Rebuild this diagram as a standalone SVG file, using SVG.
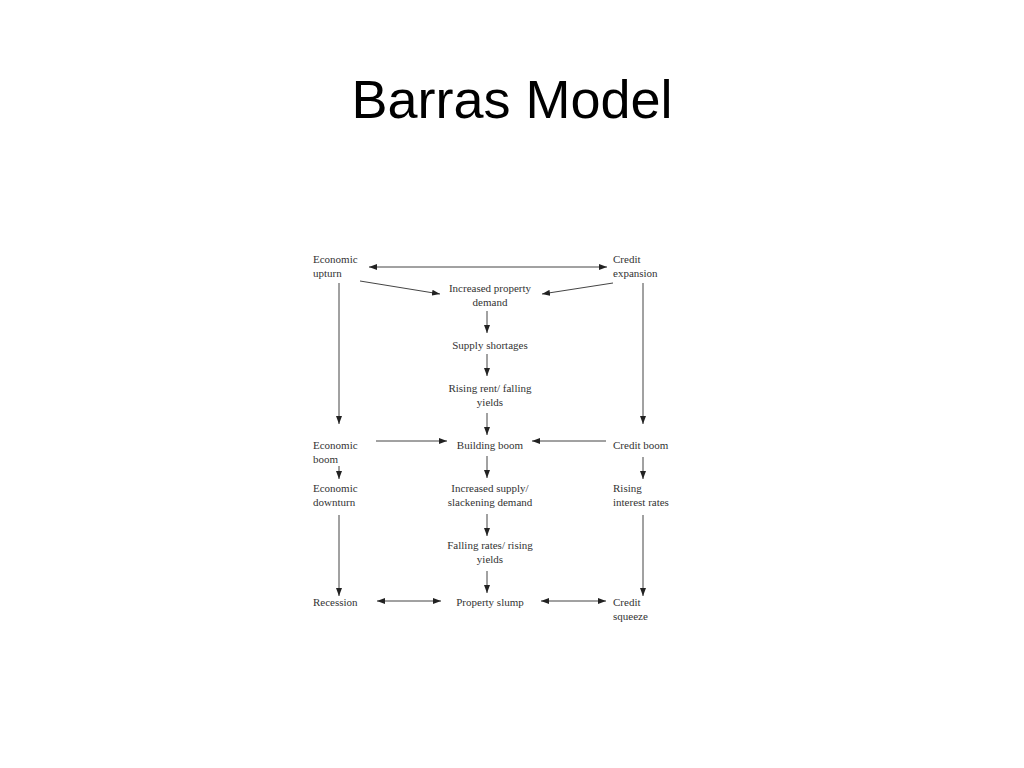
<svg xmlns="http://www.w3.org/2000/svg" width="1024" height="768" viewBox="0 0 1024 768">
<style>
.t{font-family:"Liberation Serif",serif;font-size:11px;fill:#333}
.c{text-anchor:middle}
.ttl{font-family:"Liberation Sans",Arial,sans-serif;font-size:54px;fill:#000;text-anchor:middle}
line{stroke:#444;stroke-width:1}
</style>
<defs><marker id="a" markerWidth="8" markerHeight="6" refX="8" refY="3" orient="auto-start-reverse" markerUnits="userSpaceOnUse"><path d="M0,0L8,3L0,6z" fill="#222"/></marker></defs>
<rect width="1024" height="768" fill="#fff"/>
<text class="ttl" x="512" y="118">Barras Model</text>
<g id="n1"><text class="t" x="313" y="263">Economic</text><text class="t" x="313" y="277">upturn</text></g>
<g id="n2"><text class="t" x="613" y="263">Credit</text><text class="t" x="613" y="277">expansion</text></g>
<g id="n3"><text class="t c" x="490" y="292">Increased property</text><text class="t c" x="490" y="306">demand</text></g>
<g id="n4"><text class="t c" x="490" y="349">Supply shortages</text></g>
<g id="n5"><text class="t c" x="490" y="392">Rising rent/ falling</text><text class="t c" x="490" y="406">yields</text></g>
<g id="n6"><text class="t" x="313" y="449">Economic</text><text class="t" x="313" y="463">boom</text></g>
<g id="n7"><text class="t c" x="490" y="449">Building boom</text></g>
<g id="n8"><text class="t" x="613" y="449">Credit boom</text></g>
<g id="n9"><text class="t" x="313" y="492">Economic</text><text class="t" x="313" y="506">downturn</text></g>
<g id="n10"><text class="t c" x="490" y="492">Increased supply/</text><text class="t c" x="490" y="506">slackening demand</text></g>
<g id="n11"><text class="t" x="613" y="492">Rising</text><text class="t" x="613" y="506">interest rates</text></g>
<g id="n12"><text class="t c" x="490" y="549">Falling rates/ rising</text><text class="t c" x="490" y="563">yields</text></g>
<g id="n13"><text class="t" x="313" y="606">Recession</text></g>
<g id="n14"><text class="t c" x="490" y="606">Property slump</text></g>
<g id="n15"><text class="t" x="613" y="606">Credit</text><text class="t" x="613" y="620">squeeze</text></g>
<g id="connectors" marker-end="url(#a)">
<line x1="369" y1="267" x2="607" y2="267" marker-start="url(#a)"/>
<line x1="360" y1="281" x2="440" y2="294"/>
<line x1="613" y1="283" x2="542" y2="294"/>
<line x1="487" y1="311" x2="487" y2="333"/>
<line x1="487" y1="354" x2="487" y2="376"/>
<line x1="487" y1="413" x2="487" y2="435"/>
<line x1="487" y1="456" x2="487" y2="478"/>
<line x1="487" y1="514" x2="487" y2="536"/>
<line x1="487" y1="571" x2="487" y2="593"/>
<line x1="339" y1="283" x2="339" y2="424"/>
<line x1="339" y1="466" x2="339" y2="479"/>
<line x1="339" y1="515" x2="339" y2="596"/>
<line x1="643" y1="283" x2="643" y2="424"/>
<line x1="643" y1="457" x2="643" y2="479"/>
<line x1="643" y1="515" x2="643" y2="596"/>
<line x1="376" y1="441" x2="447" y2="441"/>
<line x1="606" y1="441" x2="532" y2="441"/>
<line x1="377" y1="601" x2="441" y2="601" marker-start="url(#a)"/>
<line x1="541" y1="601" x2="606" y2="601" marker-start="url(#a)"/>
</g>
</svg>
